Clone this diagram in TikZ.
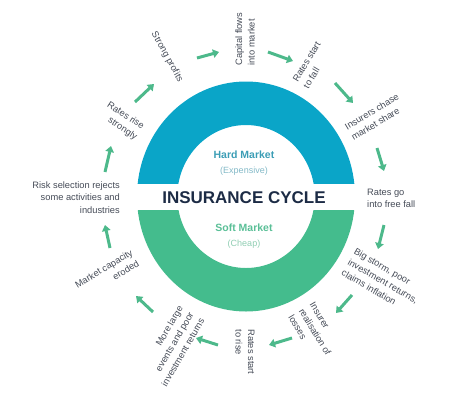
\documentclass[tikz,border=0pt]{standalone}
\usepackage{fontspec}
\setmainfont{Liberation Sans}
\usetikzlibrary{arrows.meta}
\definecolor{ringblue}{HTML}{0AA5C8}
\definecolor{ringgreen}{HTML}{44BC8D}
\definecolor{arrgreen}{HTML}{4DB98B}
\definecolor{titlecol}{HTML}{1C2B45}
\definecolor{hardcol}{HTML}{3B9DB5}
\definecolor{expcol}{HTML}{83B9C7}
\definecolor{softcol}{HTML}{5ABF97}
\definecolor{cheapcol}{HTML}{8FCDB2}
\definecolor{labelcol}{HTML}{454B57}
\begin{document}
\begin{tikzpicture}[x=1pt,y=1pt,
  arr/.style={draw=arrgreen, line width=3pt, -{Triangle[length=6pt,width=8.5pt]}},
  lbl/.style={text=labelcol, font=\fontsize{9.3}{12.5}\selectfont, inner sep=0pt},
  mkt/.style={font=\bfseries\fontsize{10.5}{12}\selectfont, inner sep=0pt},
  sub/.style={font=\fontsize{9}{11}\selectfont, inner sep=0pt}
]
\useasboundingbox (0,0) rectangle (450,-400);
\coordinate (C) at (246,-196.5);
% rings
\begin{scope}
  \clip (0,-183) rectangle (450,0);
  \fill[ringblue, even odd rule] (C) ellipse[x radius=109, y radius=115]
        (C) ellipse[x radius=68.7, y radius=71.5];
\end{scope}
\begin{scope}
  \clip (0,-210) rectangle (450,-400);
  \fill[ringgreen, even odd rule] (C) ellipse[x radius=109, y radius=115]
        (C) ellipse[x radius=68.7, y radius=71.5];
\end{scope}
% centre texts
\node[font=\bfseries\fontsize{17}{19}\selectfont, text=titlecol, inner sep=0pt] (title) at (244,-198) {INSURANCE CYCLE};
\node[mkt, text=hardcol] (hard) at (244,-155) {Hard Market};
\node[sub, text=expcol] (exp) at (244,-171) {(Expensive)};
\node[mkt, text=softcol] (soft) at (244,-228) {Soft Market};
\node[sub, text=cheapcol] (cheap) at (244,-244) {(Cheap)};
% labels
\node[lbl, align=right, anchor=east] (risk) at (120,-197.5) {Risk selection rejects\\some activities and\\industries};
\node[lbl, align=right, rotate=-33] (rise) at (122,-121) {Rates rise\\strongly};
\node[lbl, rotate=-61] (profits) at (167,-57) {Strong profits};
\node[lbl, align=left, rotate=90] (capital) at (245,-39) {Capital flows\\into market};
\node[lbl, align=left, rotate=59] (fall) at (312,-65) {Rates start\\to fall};
\node[lbl, align=left, rotate=31] (chase) at (375,-117) {Insurers chase\\market share};
\node[lbl, align=left, anchor=west] (freefall) at (367,-198.5) {Rates go\\into free fall};
\node[lbl, align=left, rotate=-30] (storm) at (383,-281) {Big storm, poor\\investment returns,\\claims inflation};
\node[lbl, align=left, rotate=-59] (insurer) at (315,-332) {Insurer\\realisation of\\losses};
\node[lbl, align=left, rotate=-90] (torise) at (245,-352) {Rates start\\to rise};
\node[lbl, align=right, rotate=60] (large) at (172,-346) {More large\\events and poor\\investment returns};
\node[lbl, align=right, rotate=31] (capacity) at (107,-274) {Market capacity\\eroded};
% arrow end points
\coordinate (a1s) at (105,-172); \coordinate (a1e) at (111,-146);
\coordinate (a2s) at (135,-102); \coordinate (a2e) at (154,-84);
\coordinate (a3s) at (197,-58);  \coordinate (a3e) at (219,-52);
\coordinate (a4s) at (268,-52);  \coordinate (a4e) at (293,-61);
\coordinate (a5s) at (335,-83);  \coordinate (a5e) at (353,-103);
\coordinate (a6s) at (377,-148); \coordinate (a6e) at (384,-171);
\coordinate (a7s) at (384,-225); \coordinate (a7e) at (378,-249);
\coordinate (a8s) at (352,-295); \coordinate (a8e) at (336,-313);
\coordinate (a9s) at (292,-338); \coordinate (a9e) at (269,-345);
\coordinate (a10s) at (218,-345); \coordinate (a10e) at (196,-338);
\coordinate (a11s) at (153,-312); \coordinate (a11e) at (136,-296);
\coordinate (a12s) at (110,-248); \coordinate (a12e) at (105,-225);
\foreach \i in {1,...,12} \draw[arr] (a\i s) -- (a\i e);
\end{tikzpicture}
\end{document}
